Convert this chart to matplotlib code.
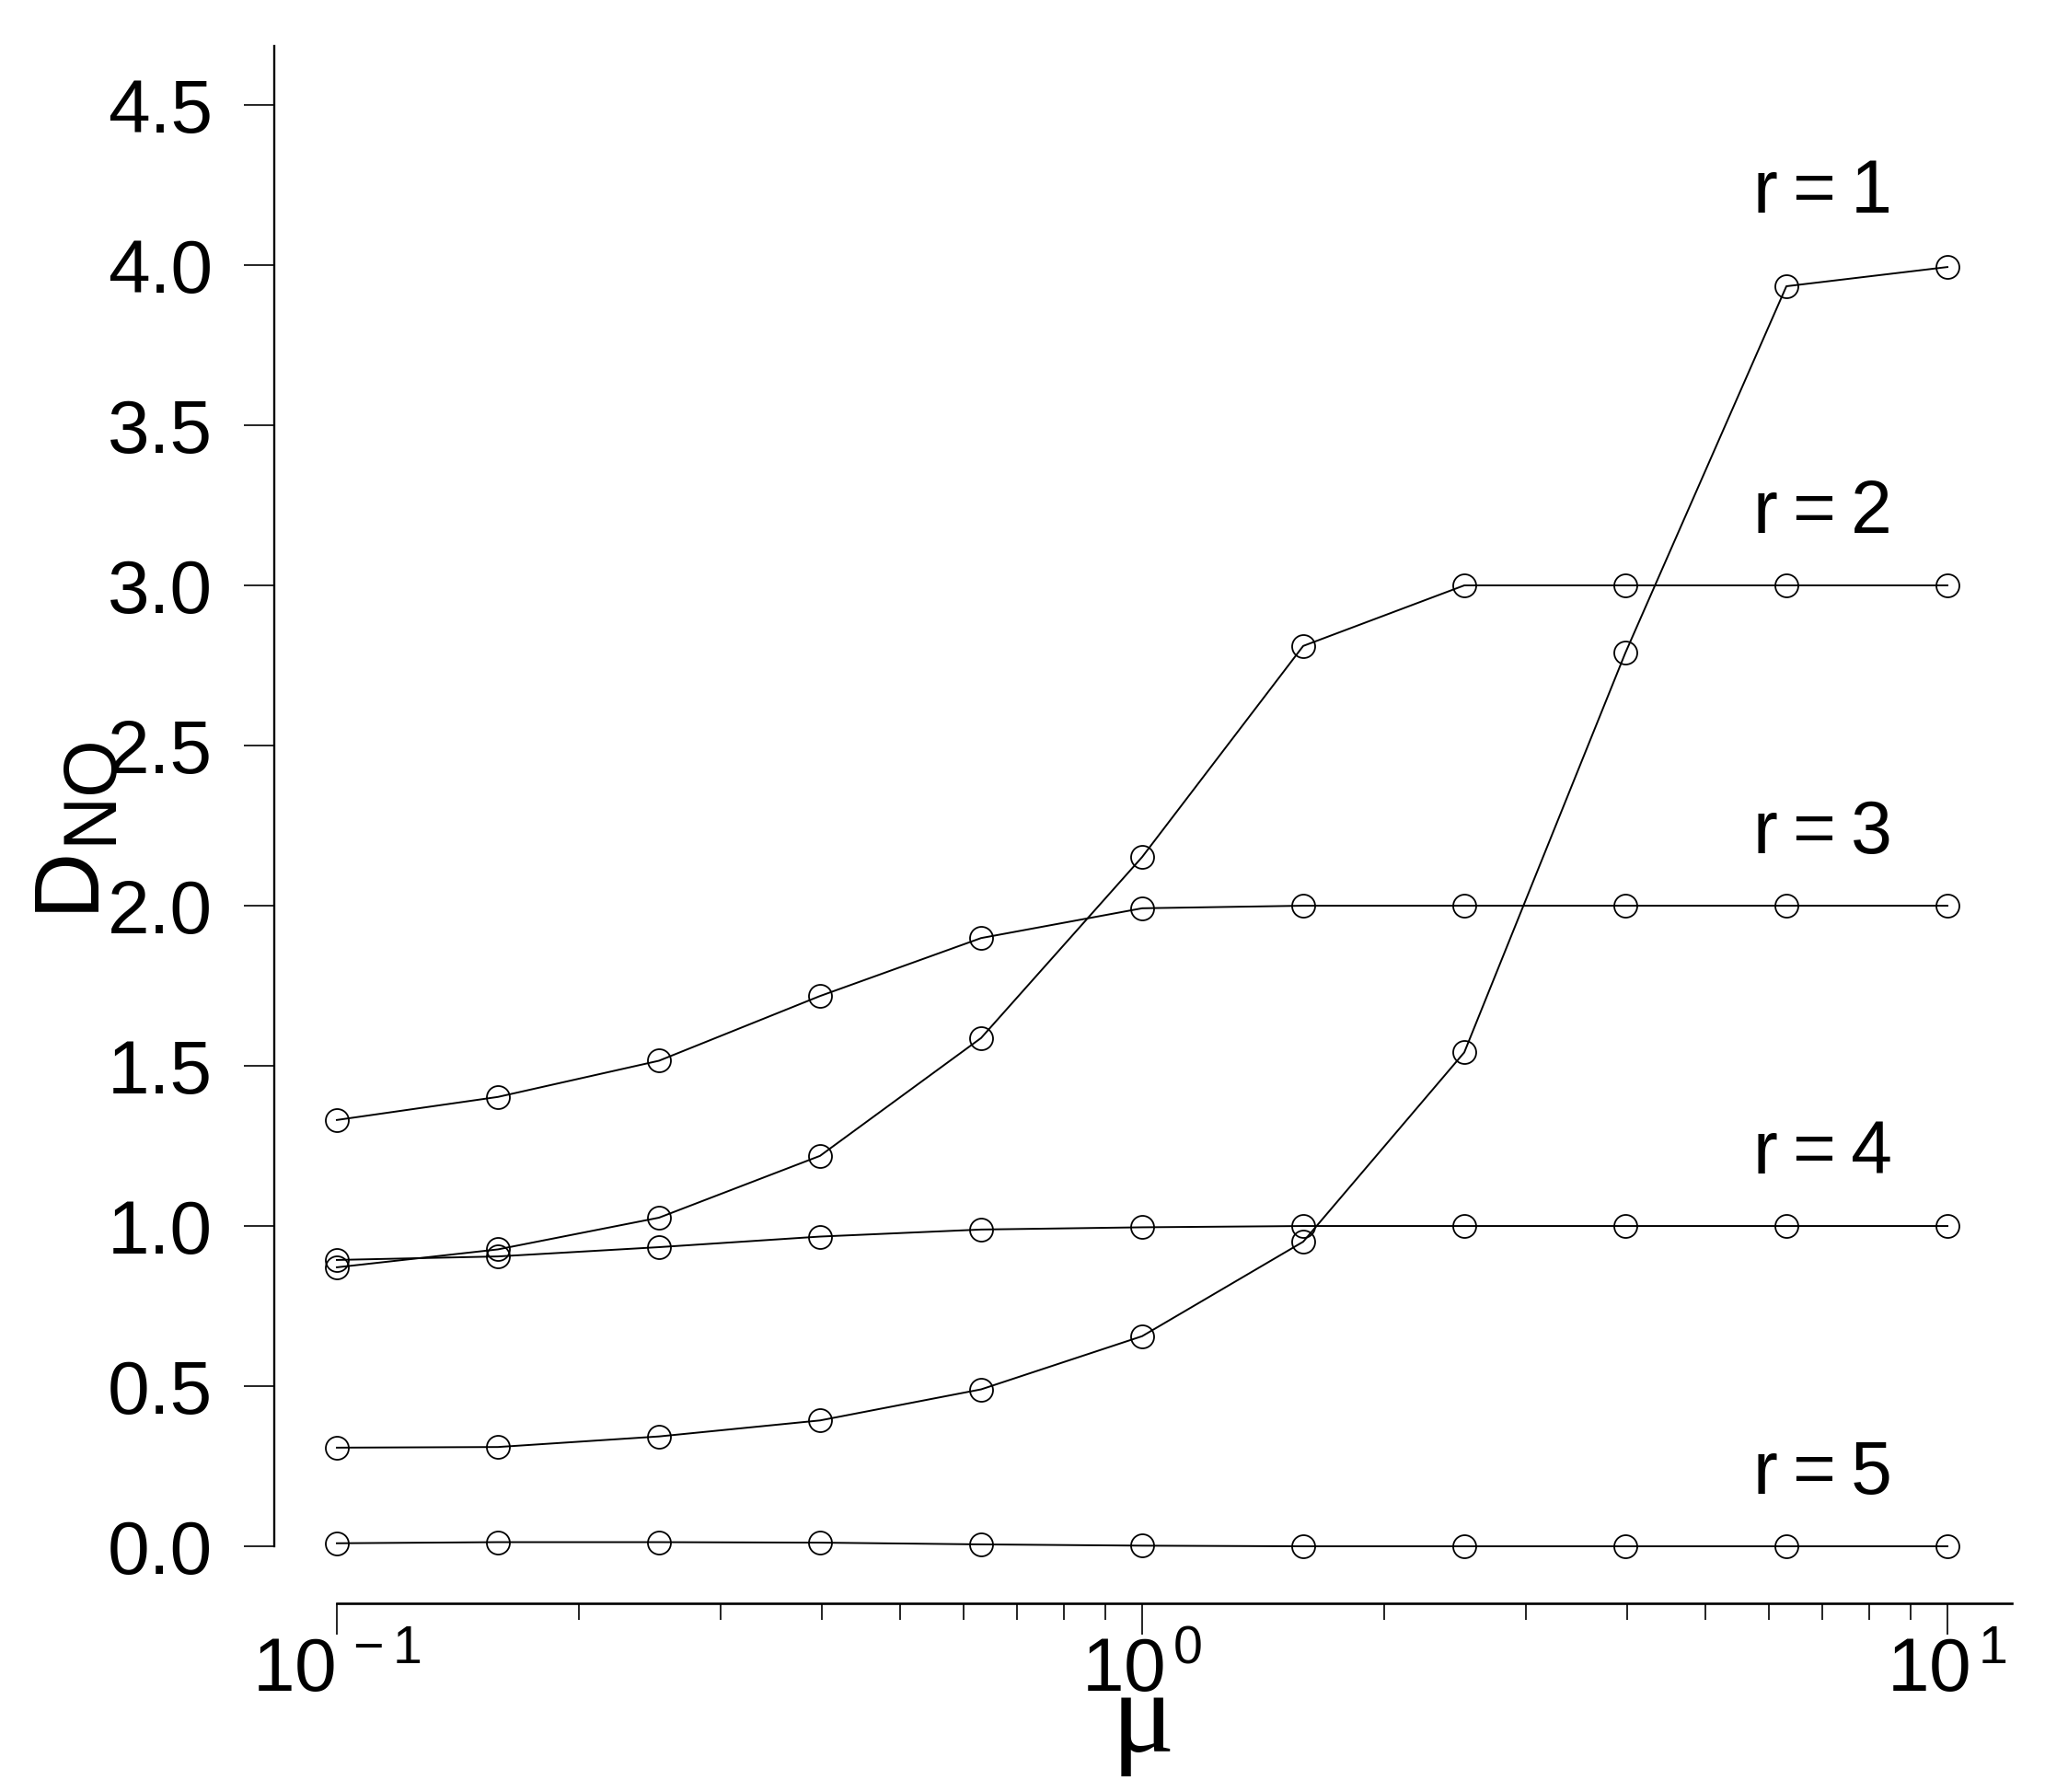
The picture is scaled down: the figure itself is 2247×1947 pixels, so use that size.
import matplotlib
matplotlib.use("Agg")
import matplotlib.pyplot as plt
from matplotlib.ticker import FixedLocator, NullFormatter

plt.rcParams['font.family'] = ['Liberation Sans', 'DejaVu Sans']
plt.rcParams['mathtext.fontset'] = 'custom'
plt.rcParams['mathtext.rm'] = 'Liberation Sans'
plt.rcParams['mathtext.it'] = 'Liberation Sans:italic'
plt.rcParams['mathtext.bf'] = 'Liberation Sans:bold'

### Daten
mu = [0.1, 0.1585, 0.2512, 0.3981, 0.631, 1.0, 1.585, 2.512, 3.981, 6.31, 10.0]
D_r1 = [0.308, 0.310, 0.343, 0.393, 0.490, 0.656, 0.951, 1.542, 2.789, 3.934, 3.994]
D_r2 = [0.871, 0.927, 1.026, 1.219, 1.587, 2.152, 2.811, 3.0, 3.0, 3.0, 3.0]
D_r3 = [1.331, 1.403, 1.516, 1.718, 1.899, 1.992, 2.0, 2.0, 2.0, 2.0, 2.0]
D_r4 = [0.894, 0.905, 0.934, 0.967, 0.989, 0.996, 1.0, 1.0, 1.0, 1.0, 1.0]
D_r5 = [0.0095, 0.013, 0.013, 0.0115, 0.006, 0.002, 0.0, 0.0, 0.0, 0.0, 0.0]
series = [D_r1, D_r2, D_r3, D_r4, D_r5]
labels = ['r\u2009=\u20091', 'r\u2009=\u20092', 'r\u2009=\u20093', 'r\u2009=\u20094', 'r\u2009=\u20095']
label_levels = [4, 3, 2, 1, 0]

yticks = [0.0, 0.5, 1.0, 1.5, 2.0, 2.5, 3.0, 3.5, 4.0, 4.5]
xticks = [0.1, 1.0, 10.0]
xticklabels = [r'$\mathregular{10^{\,-1}}$', r'$\mathregular{10^{\,0}}$', r'$\mathregular{10^{\,1}}$']

W, H = 2247, 1947
fig = plt.figure(figsize=(W / 200, H / 200), dpi=200)
ax = fig.add_axes([298 / W, 1 - 1742 / H, (2196 - 298) / W, (1742 - 50) / H])

for D in series:
    ax.plot(mu, D, '-o', color='black', lw=0.7, ms=9, mfc='none', mew=0.65)

for lab, lev in zip(labels, label_levels):
    ax.text(7.0, lev + 0.165, lab, ha='center', va='baseline', fontsize=29)

ax.set_xscale('log')
xmin = 10 ** (-1 - 68 / 875)
xmax = 10 ** (1 + 80 / 875)
ax.set_xlim(xmin, xmax)
ax.set_ylim(-0.178, 4.684)

for s in ['top', 'right']:
    ax.spines[s].set_visible(False)
ax.spines['left'].set_bounds(0, 4.684)
ax.spines['bottom'].set_bounds(0.1, 10 ** (1 + 70 / 875))
ax.spines['left'].set_linewidth(0.85)
ax.spines['bottom'].set_linewidth(0.95)

ax.set_yticks(yticks)
ax.set_yticklabels([f'{v:.1f}' for v in yticks])
ax.xaxis.set_major_locator(FixedLocator(xticks))
minors = [k * 10.0 ** e for e in (-1, 0) for k in range(2, 10)]
ax.xaxis.set_minor_locator(FixedLocator(minors))
ax.xaxis.set_minor_formatter(NullFormatter())
ax.set_xticklabels(xticklabels)

ax.tick_params(axis='y', which='major', direction='out', length=12, width=0.6,
               labelsize=29.5, pad=12)
ax.tick_params(axis='x', which='major', direction='out', length=12.3, width=0.6,
               labelsize=29.5, pad=1)
ax.tick_params(axis='x', which='minor', direction='out', length=6.6, width=0.6)

# Achsenbeschriftungen
fig.text(1242 / W, 1 - 1903 / H, 'μ', family='Liberation Serif', fontsize=46,
         ha='center', va='baseline')
fig.text(100 / W, 1 - 953.5 / H, 'D', fontsize=36, rotation=90,
         rotation_mode='anchor', ha='center', va='baseline')
fig.text(120 / W, 1 - 856.5 / H, 'NO', fontsize=29, rotation=90,
         rotation_mode='anchor', ha='center', va='baseline')

fig.savefig('out.png', dpi=200)
